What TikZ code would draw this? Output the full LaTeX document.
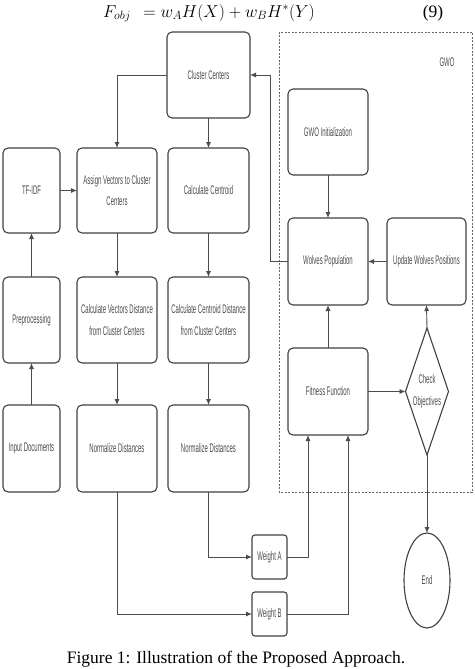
\documentclass[tikz,border=0pt]{standalone}
\usepackage{fontspec}
\setmainfont{Liberation Serif}
\newfontfamily\boxfont[FakeStretch=0.48]{Liberation Sans}
\usetikzlibrary{arrows.meta,shapes.geometric}
\tikzset{
  box/.style={draw=black!75, line width=1.1pt, rounded corners=5pt, inner sep=0pt, outer sep=0pt,
    align=center, text=black!70, font=\boxfont\fontsize{12.5}{21.5}\selectfont},
  smallbox/.style={box, rounded corners=3pt},
  conn/.style={draw=black!70, line width=0.9pt, -{Latex[length=6pt,width=5pt]}},
  lbl/.style={inner sep=0pt, text=black!70, align=center, font=\boxfont\fontsize{12.5}{21.5}\selectfont}
}
\begin{document}
\begin{tikzpicture}[x=1pt,y=-1pt]
\useasboundingbox (0,0) rectangle (474,669);
% equation
\node[inner sep=0pt, anchor=west, font=\fontsize{17.5}{20}\selectfont] (eq) at (103,13) {$F_{obj}\;\,=w_A H(X)+w_B H^{*}(Y)$};
\node[inner sep=0pt, font=\fontsize{17.5}{20}\selectfont] (eqn) at (433,13) {(9)};
% GWO frame
\draw[draw=black!60, line width=0.8pt, dashed, dash pattern=on 2pt off 1.5pt] (279,32) rectangle (472,492);
\node[lbl] (gwo) at (447,62) {GWO};
% left columns
\node[box, minimum width=83pt, minimum height=86pt] (cc) at (208.5,75) {Cluster Centers};
\node[box, minimum width=57pt, minimum height=85pt] (tfidf) at (31.5,190.5) {TF-IDF};
\node[box, minimum width=80pt, minimum height=85pt] (assign) at (117,190.5) {Assign Vectors to Cluster\\Centers};
\node[box, minimum width=81pt, minimum height=85pt] (centroid) at (208.5,190.5) {Calculate Centroid};
\node[box, minimum width=57pt, minimum height=86pt] (prep) at (31.5,320) {Preprocessing};
\node[box, minimum width=80pt, minimum height=86pt] (calcvec) at (117,320) {Calculate Vectors Distance\\from Cluster Centers};
\node[box, minimum width=81pt, minimum height=86pt] (cdist) at (208.5,320) {Calculate Centroid Distance\\from Cluster Centers};
\node[box, minimum width=57pt, minimum height=87pt] (input) at (31.5,448.5) {Input Documents};
\node[box, minimum width=80pt, minimum height=87pt] (norm1) at (117,448.5) {Normalize Distances};
\node[box, minimum width=81pt, minimum height=87pt] (norm2) at (208.5,448.5) {Normalize Distances};
% GWO nodes
\node[box, minimum width=80pt, minimum height=86pt] (init) at (328,132) {GWO Initialization};
\node[box, minimum width=80pt, minimum height=87pt] (wolves) at (328,261.5) {Wolves Population};
\node[box, minimum width=79pt, minimum height=87pt] (update) at (426.5,261.5) {Update Wolves Positions};
\node[box, minimum width=80pt, minimum height=87pt] (fit) at (328,391.5) {Fitness Function};
\node[diamond, draw=black!75, line width=1.1pt, inner sep=0pt, outer sep=0pt, minimum width=43pt, minimum height=127pt] (chk) at (427,391.5) {};
\node[lbl] (chktxt) at (chk.center) {Check\\Objectives};
\node[ellipse, draw=black!75, line width=1.1pt, inner sep=0pt, outer sep=0pt, minimum width=46pt, minimum height=95pt, text=black!70, font=\boxfont\fontsize{12.5}{21.5}\selectfont] (end) at (427,580.5) {End};
% weights
\node[smallbox, minimum width=35pt, minimum height=44pt] (wa) at (269.5,557) {Weight A};
\node[smallbox, minimum width=35pt, minimum height=44pt] (wb) at (269.5,614) {Weight B};
% connectors
\draw[conn] (cc.west) -| (assign.north);
\draw[conn] (cc.south) -- (centroid.north);
\draw[conn] (tfidf.east) -- (assign.west);
\draw[conn] (prep.north) -- (tfidf.south);
\draw[conn] (input.north) -- (prep.south);
\draw[conn] (assign.south) -- (calcvec.north);
\draw[conn] (centroid.south) -- (cdist.north);
\draw[conn] (calcvec.south) -- (norm1.north);
\draw[conn] (cdist.south) -- (norm2.north);
\draw[conn] (norm1.south) |- (wb.west);
\draw[conn] (norm2.south) |- (wa.west);
\coordinate (fa) at (308,435);
\coordinate (fb) at (348,435);
\draw[conn] (wa.east) -| (fa);
\draw[conn] (wb.east) -| (fb);
\draw[conn] (fit.north) -- (wolves.south);
\draw[conn] (init.south) -- (wolves.north);
\draw[conn] (update.west) -- (wolves.east);
\coordinate (bend) at (270,261.5);
\draw[conn] (wolves.west) -- (bend) |- (cc.east);
\draw[conn] (fit.east) -- (chk.west);
\draw[conn] (chk.north) -- (update.south);
\draw[conn] (chk.south) -- (end.north);
% caption
\node[inner sep=0pt, font=\fontsize{17.5}{20}\selectfont] (cap) at (236,659) {Figure 1: Illustration of the Proposed Approach.};
\end{tikzpicture}
\end{document}
